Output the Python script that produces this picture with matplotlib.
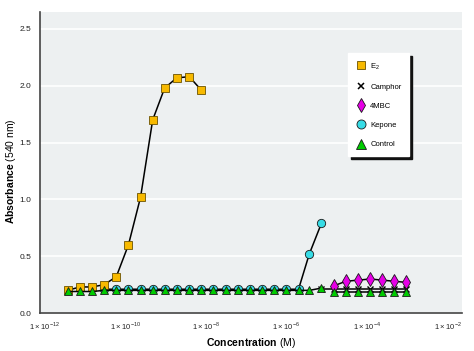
import numpy as np
import matplotlib
matplotlib.use('Agg')
import matplotlib.pyplot as plt
from matplotlib.lines import Line2D

plt.rcParams['font.family'] = ['Liberation Sans', 'DejaVu Sans']
plt.rcParams['mathtext.fontset'] = 'custom'
plt.rcParams['mathtext.rm'] = 'Liberation Sans'
plt.rcParams['mathtext.bf'] = 'Liberation Sans:bold'

# concentrations (M), two-fold dilution series
e2_conc = [3.7e-12, 7.5e-12, 1.5e-11, 3.0e-11, 6.0e-11, 1.2e-10, 2.4e-10,
           4.8e-10, 9.5e-10, 1.9e-9, 3.9e-9, 7.8e-9]
e2_abs = [0.20, 0.23, 0.23, 0.25, 0.32, 0.60, 1.02, 1.70, 1.98, 2.07, 2.08, 1.96]

kepone_conc = [3.0e-11, 6.0e-11, 1.2e-10, 2.4e-10, 4.8e-10, 9.5e-10, 1.9e-9,
               3.9e-9, 7.8e-9, 1.55e-8, 3.1e-8, 6.2e-8, 1.25e-7, 2.5e-7,
               5.0e-7, 1.0e-6, 2.0e-6, 3.7e-6, 7.4e-6]
kepone_abs = [0.21, 0.21, 0.21, 0.21, 0.21, 0.21, 0.21, 0.21, 0.21, 0.21,
              0.21, 0.21, 0.21, 0.21, 0.21, 0.21, 0.21, 0.52, 0.79]

camphor_conc = [7.4e-6, 1.5e-5, 3.0e-5, 6.0e-5, 1.2e-4, 2.4e-4, 4.8e-4, 9.5e-4]
camphor_abs = [0.21, 0.21, 0.21, 0.21, 0.21, 0.21, 0.21, 0.21]

mbc_conc = [1.5e-5, 3.0e-5, 6.0e-5, 1.2e-4, 2.4e-4, 4.8e-4, 9.5e-4]
mbc_abs = [0.24, 0.28, 0.29, 0.30, 0.29, 0.28, 0.27]

control_conc = [3.7e-12, 7.5e-12, 1.5e-11, 3.0e-11, 6.0e-11, 1.2e-10, 2.4e-10,
                4.8e-10, 9.5e-10, 1.9e-9, 3.9e-9, 7.8e-9, 1.55e-8, 3.1e-8,
                6.2e-8, 1.25e-7, 2.5e-7, 5.0e-7, 1.0e-6, 2.0e-6, 3.7e-6, 7.4e-6]
control_abs = [0.19, 0.19, 0.19, 0.20, 0.20, 0.20, 0.20, 0.20, 0.20, 0.20,
               0.20, 0.20, 0.20, 0.20, 0.20, 0.20, 0.20, 0.20, 0.20, 0.20,
               0.20, 0.22]
control2_conc = [1.5e-5, 3.0e-5, 6.0e-5, 1.2e-4, 2.4e-4, 4.8e-4, 9.5e-4]
control2_abs = [0.185, 0.185, 0.185, 0.185, 0.185, 0.185, 0.185]

xticks = [1e-12, 1e-10, 1e-8, 1e-6, 1e-4, 1e-2]
xticklabels = [r'$1 \times 10^{-12}$', r'$1 \times 10^{-10}$', r'$1 \times 10^{-8}$',
               r'$1 \times 10^{-6}$', r'$1 \times 10^{-4}$', r'$1 \times 10^{-2}$']

fig = plt.figure(figsize=(4.74, 3.51), dpi=100)
ax = fig.add_axes([0.084, 0.108, 0.89, 0.858])
ax.set_facecolor('#edf0f1')

edge = '#1a1a1a'
ms_sq, ms_tri, ms_o, ms_d = 5.5, 6.0, 6.0, 7.0
ax.plot(camphor_conc, camphor_abs, '-', color='black', lw=1.1, marker='x',
        ms=4.5, mec='black', zorder=2)
ax.plot(kepone_conc, kepone_abs, '-', color='black', lw=1.1, marker='o',
        ms=ms_o, mfc='#38dce6', mec=edge, mew=0.6, zorder=3)
ax.plot(e2_conc, e2_abs, '-', color='black', lw=1.1, marker='s',
        ms=ms_sq, mfc='#f7b900', mec='#6b5200', mew=0.6, zorder=3)
ax.plot(mbc_conc, mbc_abs, '-', color='black', lw=1.1, marker='d',
        ms=ms_d, mfc='#e600e6', mec=edge, mew=0.6, zorder=3)
ax.plot(control_conc, control_abs, '-', color='black', lw=1.1, marker='^',
        ms=ms_tri, mfc='#00cc00', mec=edge, mew=0.6, zorder=4)
ax.plot(control2_conc, control2_abs, '-', color='black', lw=1.1, marker='^',
        ms=ms_tri, mfc='#00cc00', mec=edge, mew=0.6, zorder=4)

ax.set_xscale('log')
ax.set_xlim(10**-12.12, 10**-1.65)
ax.set_ylim(0, 2.65)
ax.set_xticks(xticks)
ax.set_xticklabels(xticklabels, fontsize=5.5, color='#222222')
ax.xaxis.set_minor_locator(matplotlib.ticker.NullLocator())
ax.set_yticks([0.0, 0.5, 1.0, 1.5, 2.0, 2.5])
ax.set_yticklabels(['0.0', '0.5', '1.0', '1.5', '2.0', '2.5'], fontsize=6, color='#222222')
ax.tick_params(axis='x', length=0, pad=5)
ax.tick_params(axis='y', length=0, pad=6)
ax.yaxis.grid(True, color='white', lw=1.2)
ax.set_axisbelow(True)
for s in ['top', 'right']:
    ax.spines[s].set_visible(False)
for s in ['left', 'bottom']:
    ax.spines[s].set_color('#444444')
    ax.spines[s].set_linewidth(1.2)

ax.set_xlabel(r'$\bf{Concentration}$ (M)', fontsize=7.5)
ax.set_ylabel(r'$\bf{Absorbance}$ (540 nm)', fontsize=7.5)
ax.xaxis.set_label_coords(0.5, -0.075)
ax.yaxis.set_label_coords(-0.052, 0.47)

handles = [
    Line2D([], [], ls='none', marker='s', ms=5.5, mfc='#f7b900', mec='#6b5200', mew=0.6),
    Line2D([], [], ls='none', marker='x', ms=5, mec='black', mew=1.1),
    Line2D([], [], ls='none', marker='d', ms=7, mfc='#e600e6', mec=edge, mew=0.6),
    Line2D([], [], ls='none', marker='o', ms=6.5, mfc='#38dce6', mec=edge, mew=0.6),
    Line2D([], [], ls='none', marker='^', ms=6.5, mfc='#00cc00', mec=edge, mew=0.6),
]
labels = [r'E$_2$', 'Camphor', '4MBC', 'Kepone', 'Control']
leg = ax.legend(handles, labels, loc='upper left', bbox_to_anchor=(0.722, 0.875),
                fontsize=5.5, frameon=True, fancybox=False, edgecolor='white',
                facecolor='white', framealpha=1, labelspacing=1.55,
                handlelength=1.4, handletextpad=0.5, borderpad=1.0,
                shadow={'color': '#111111', 'alpha': 1, 'ox': 2, 'oy': -2})

fig.savefig('out.png', dpi=100)
